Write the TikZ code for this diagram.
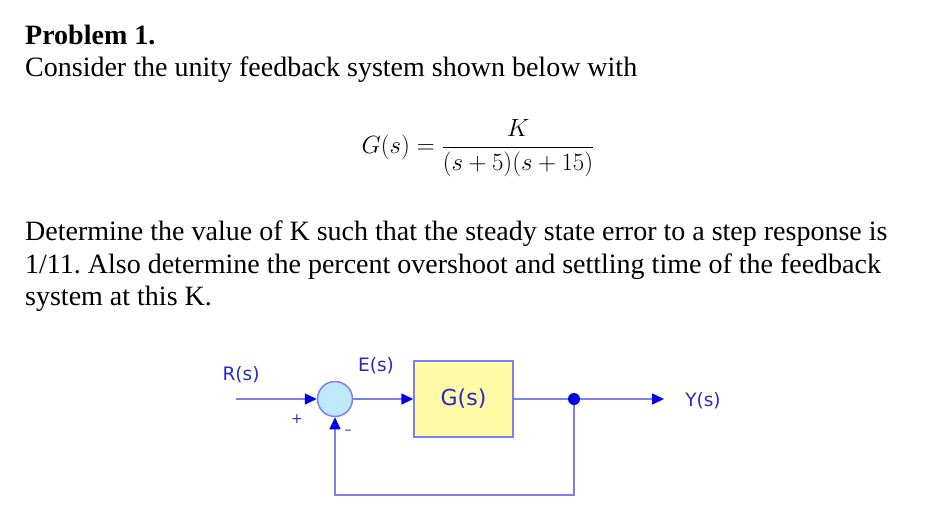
\documentclass[tikz,border=0pt]{standalone}
\usepackage{amsmath}
\usepackage{fontspec}
\setmainfont{Liberation Serif}
\newfontfamily\diafont{DejaVu Sans}
\definecolor{ln}{RGB}{125,125,245}
\definecolor{lb}{RGB}{40,40,200}
\definecolor{tip}{RGB}{0,0,230}
\usetikzlibrary{arrows.meta}
\frenchspacing
\begin{document}
\begin{tikzpicture}[x=1pt,y=-1pt,
  txt/.style={anchor=base west,inner sep=0pt,font=\fontsize{28}{32}\selectfont},
  wire/.style={draw=ln,line width=1.5pt},
  arr/.style={wire,-{Triangle[length=12pt,width=11pt,fill=tip,color=tip]}},
  lab/.style={text=lb,font=\diafont\fontsize{18.5}{20}\selectfont,inner sep=0pt}]
\useasboundingbox (0,0) rectangle (937,514);
\node[txt,font=\fontsize{28}{32}\selectfont\bfseries] (t1) at (25,44) {Problem 1.};
\node[txt] (t2) at (25,76) {Consider the unity feedback system shown below with};
\node[inner sep=0pt,font=\fontsize{27}{30}\selectfont] (eq) at (478,148) {$G(s)=\dfrac{K}{(s+5)(s+15)}$};
\node[txt] (t3) at (25,240) {Determine the value of K such that the steady state error to a step response is};
\node[txt] (t4) at (25,273) {1/11. Also determine the percent overshoot and settling time of the feedback};
\node[txt] (t5) at (25,305) {system at this K.};
% block diagram
\coordinate (in) at (236,399);
\node[circle,draw=ln,line width=1.5pt,fill=cyan!25,minimum size=35pt,inner sep=0pt] (sum) at (335,399) {};
\node[draw=ln,line width=1.5pt,fill=yellow!35,minimum width=99pt,minimum height=76pt,inner sep=0pt,lab,font=\diafont\fontsize{22}{24}\selectfont] (G) at (463.5,399) {G(s)};
\node[circle,fill=tip,minimum size=12pt,inner sep=0pt] (dot) at (574,399) {};
\coordinate (out) at (664,399);
\coordinate (fb1) at (574,495);
\coordinate (fb2) at (335,495);
\draw[arr] (in) -- (sum.west);
\draw[arr] (sum.east) -- (G.west);
\draw[wire] (G.east) -- (dot);
\draw[arr] (dot) -- (out);
\draw[arr] (dot) -- (fb1) -- (fb2) -- (sum.south);
\node[lab] (R) at (241,375) {R(s)};
\node[lab] (E) at (376,366) {E(s)};
\node[lab] (Y) at (703,401) {Y(s)};
\node[lab,font=\diafont\fontsize{14}{14}\selectfont] (p) at (297,419) {+};
\node[lab,font=\diafont\fontsize{14}{14}\selectfont] (m) at (348,432) {\textendash};
\end{tikzpicture}
\end{document}
